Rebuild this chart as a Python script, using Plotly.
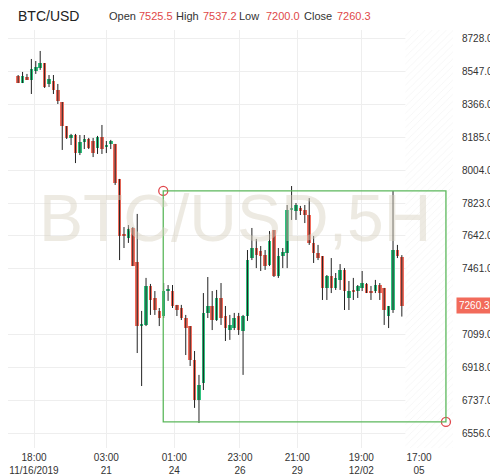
import plotly.graph_objects as go

opens = [8520,8481,8514,8498,8547,8564,8591,8476,8492,8443,8377,8245,8180,8196,8097,8158,8174,8163,8125,8185,8130,8147,
         8147,7955,7653,7631,7686,7499,7148,7154,7368,7302,7231,7203,7340,7340,7264,7247,7192,7148,6962,6743,6836,7220,
         7258,7181,7302,7203,7126,7137,7203,7121,7203,7521,7576,7560,7538,7483,7675,7423,7532,7549,7785,7779,7796,7785,
         7757,7604,7549,7532,7357,7423,7357,7401,7456,7302,7346,7340,7357,7379,7340,7340,7373,7357,7203,7236,7565,7525.5]
highs = [8525,8542,8531,8613,8602,8657,8591,8525,8525,8476,8377,8245,8202,8202,8196,8196,8180,8180,8191,8251,8163,8169,
         8147,7955,7691,7702,7691,7763,7231,7412,7379,7340,7247,7384,7373,7373,7264,7264,7209,7148,7011,6880,7329,7417,
         7340,7346,7384,7258,7209,7220,7220,7209,7565,7686,7626,7587,7565,7669,7675,7576,7576,7812,7916,7823,7807,7812,
         7850,7642,7593,7532,7428,7521,7439,7488,7466,7395,7412,7373,7450,7384,7368,7401,7384,7357,7258,7889,7593,7537.2]
lows = [8481,8481,8498,8421,8531,8553,8454,8459,8421,8366,8114,8174,8141,8042,8086,8119,8119,8075,8092,8092,8097,8119,
        7922,7510,7576,7604,7477,7000,6819,7148,7209,7209,7148,7192,7286,7247,7203,7181,6989,6929,6699,6616,6797,7192,
        7126,7176,7154,7066,7072,7126,7099,6880,7176,7510,7466,7450,7456,7477,7417,7412,7466,7466,7730,7730,7757,7713,
        7593,7494,7510,7291,7291,7329,7346,7346,7236,7236,7291,7302,7340,7329,7291,7329,7291,7154,7137,7220,7521,7200.0]
closes = [8481,8520,8498,8558,8569,8591,8459,8503,8443,8382,8245,8180,8196,8097,8158,8174,8125,8097,8185,8119,8141,8163,
          7933,7642,7642,7680,7477,7148,7159,7368,7291,7236,7192,7340,7351,7258,7236,7192,7137,6962,6743,6825,7220,7258,
          7181,7302,7192,7137,7154,7192,7126,7203,7510,7576,7538,7532,7477,7614,7423,7532,7554,7785,7796,7812,7779,7757,
          7604,7549,7521,7357,7423,7357,7412,7456,7340,7340,7340,7368,7384,7329,7329,7373,7329,7236,7258,7565,7532,7260.3]

x_tickpos = [3.6, 20.0, 35.4, 50.3, 63.3, 77.8, 90.9]
x_ticklabels = ["18:00<br>11/16/2019", "03:00<br>21", "01:00<br>24", "23:00<br>26", "21:00<br>29", "19:00<br>12/02", "17:00<br>05"]
y_ticks = [6556.0, 6737.0, 6918.0, 7099.0, 7461.0, 7642.0, 7823.0, 8004.0, 8185.0, 8366.0, 8547.0, 8728.0]
box = dict(x0=32.9, x1=97.0, y_top=7889.0, y_bot=6622.0)
hatch_start = 87.8

GREEN = "#2ec27e"
RED = "#f26b5b"
n = len(opens)
idx = list(range(n))

fig = go.Figure()

fig.add_trace(go.Scatter(x=[hatch_start, 100, 100, hatch_start, hatch_start], y=[6000, 6000, 9500, 9500, 6000],
                         fill="toself", mode="lines", line=dict(width=0), fillcolor="rgba(0,0,0,0)",
                         fillpattern=dict(shape="/", fgcolor="#e8e8e8", bgcolor="white", size=5, solidity=0.15),
                         hoverinfo="skip", showlegend=False))

wx, wy = [], []
for i in idx:
    wx += [i, i, None]
    wy += [lows[i], highs[i], None]
fig.add_trace(go.Scatter(x=wx, y=wy, mode="lines", line=dict(color="#222", width=1), showlegend=False, hoverinfo="skip"))

base = [min(o, c) for o, c in zip(opens, closes)]
hgt = [max(abs(c - o), 5) for o, c in zip(opens, closes)]
cols = [GREEN if c >= o else RED for o, c in zip(opens, closes)]
fig.add_trace(go.Bar(x=idx, y=hgt, base=base, width=0.8, marker=dict(color=cols, line=dict(width=0)), showlegend=False))

fig.add_trace(go.Scatter(x=[box["x0"], box["x1"]], y=[box["y_top"], box["y_bot"]], mode="markers",
                         marker=dict(symbol="circle-open", size=9, color="#e0474c", line=dict(width=1.3)),
                         showlegend=False))

fig.add_shape(type="rect", x0=box["x0"], x1=box["x1"], y0=box["y_bot"], y1=box["y_top"],
              line=dict(color="#5cb85c", width=1.3), layer="above")

fig.add_annotation(text="BTC/USD,5H", xref="paper", yref="paper", x=0.51, y=0.55, showarrow=False,
                   font=dict(family="Liberation Sans", size=66, color="rgba(215,208,190,0.45)"))

def hdr(text, px, color, size=11):
    fig.add_annotation(text=text, xref="paper", yref="paper", x=px / 445, y=1.0, yshift=14, xanchor="left",
                       yanchor="middle", showarrow=False, font=dict(family="Liberation Sans", size=size, color=color))

hdr("BTC/USD", 8, "#222", 14)
hdr("Open", 99, "#333")
hdr("7525.5", 129, "#e04848")
hdr("High", 166, "#333")
hdr("7537.2", 193, "#e04848")
hdr("Low", 229, "#333")
hdr("7200.0", 256, "#e04848")
hdr("Close", 294, "#333")
hdr("7260.3", 327, "#e04848")

fig.add_annotation(text="7260.3", xref="paper", yref="y", x=1.0, y=closes[-1], xanchor="left", xshift=3,
                   showarrow=False, bgcolor=RED, borderpad=2, font=dict(family="Liberation Sans", size=10, color="white"))

fig.update_layout(width=498, height=475, margin=dict(l=0, r=53, t=22, b=35), plot_bgcolor="white",
                  paper_bgcolor="white", bargap=0, showlegend=False,
                  font=dict(family="Liberation Sans", size=10, color="#333"))
fig.update_xaxes(range=[-2.3, 98.6], tickvals=x_tickpos, ticktext=x_ticklabels, showgrid=True, gridcolor="#eeeeee",
                 zeroline=False, showline=False, ticks="", ticklabelstandoff=2, tickfont=dict(size=10, color="#333"))
fig.update_yaxes(range=[6479, 8772], side="right", tickvals=y_ticks, tickformat=".1f", showgrid=True,
                 gridcolor="#eeeeee", zeroline=False, ticks="", ticklabelstandoff=8, tickfont=dict(size=10, color="#333"))

fig.write_html("out.html")
